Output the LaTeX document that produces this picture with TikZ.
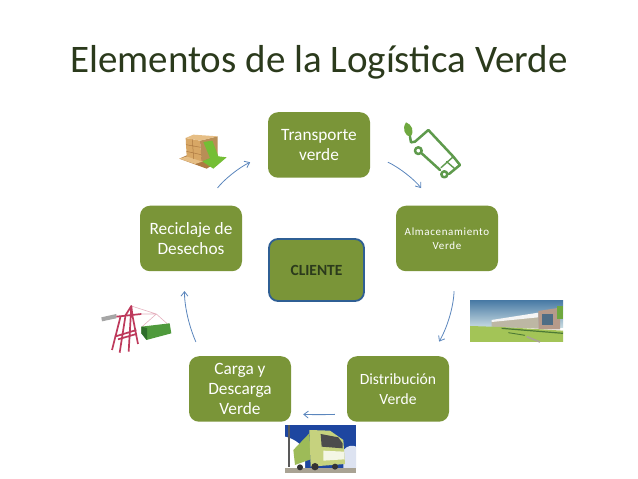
\documentclass[tikz,border=0pt]{standalone}
\usepackage{fontspec}
\setmainfont{Carlito}
\newfontfamily\trackedfont[LetterSpace=6]{Carlito}
\usetikzlibrary{arrows.meta,shadings}
\definecolor{boxgreen}{HTML}{7A9538}
\definecolor{titlecol}{HTML}{2B3A1C}
\definecolor{flowblue}{HTML}{5B86BD}
\definecolor{edgeblue}{HTML}{2F5F94}
\definecolor{cratecol}{HTML}{D8A765}
\definecolor{cratelight}{HTML}{E6BE85}
\definecolor{cratedark}{HTML}{AE7A42}
\definecolor{arrowgreen}{HTML}{74BE35}
\definecolor{truckline}{HTML}{5E9A4C}
\definecolor{leafgreen}{HTML}{6FA83F}
\definecolor{cranered}{HTML}{BE3A5C}
\definecolor{contgreen}{HTML}{4F9A3C}
\definecolor{contdark}{HTML}{2F6E2A}
\definecolor{skytop}{HTML}{4B7CA6}
\definecolor{skylow}{HTML}{C9DCE2}
\definecolor{grasscol}{HTML}{A3C457}
\definecolor{hedgecol}{HTML}{4C7A35}
\definecolor{wallcol}{HTML}{BDB7A4}
\definecolor{brickcol}{HTML}{B69A8A}
\definecolor{winblue}{HTML}{4F6D85}
\definecolor{deepsky}{HTML}{1E46A0}
\definecolor{cabgreen}{HTML}{C6D27E}
\definecolor{boxside}{HTML}{9DBB58}
\definecolor{roadcol}{HTML}{A9A394}
\tikzset{
  x=1pt,y=1pt,
  stepbox/.style={rectangle,rounded corners=10pt,fill=boxgreen,minimum width=102pt,minimum height=65.5pt,
    inner sep=0pt,align=center,text=white,font=\fontsize{17.3}{19.6}\selectfont},
  flow/.style={draw=flowblue,line width=0.8pt,-{Straight Barb[length=4.5pt,width=7pt]}},
  px/.style={yshift=479pt,yscale=-1},
  zoomed/.style={px,shift={(#1)},scale=1/3,line join=round},
  ropes/.style={draw=cranered!40,line width=0.6pt},
  girder/.style={draw=cranered,line width=1.7pt},
  cratelines/.style={draw=cratedark,line width=0.5pt},
  icon/.style={draw=truckline,line width=2.5pt,line cap=round}
}
\begin{document}
\begin{tikzpicture}
\useasboundingbox[fill=white] (0,0) rectangle (638,479);
\node[text=titlecol,font=\fontsize{39}{46}\selectfont,anchor=center] (title) at (319,417) {Elementos de la Logística Verde};

\node[stepbox] (trans) at (319,334) {Transporte\\verde};
\node[stepbox,font=\fontsize{11}{14.5}\trackedfont] (alma) at (447,240.5) {Almacenamiento\\Verde};
\node[stepbox,font=\fontsize{15.6}{19.6}\selectfont] (dist) at (398,90) {Distribución\\Verde};
\node[stepbox] (carga) at (240,90) {Carga y\\Descarga\\Verde};
\node[stepbox] (reci) at (191,240.5) {Reciclaje de\\Desechos};
\node[rectangle,rounded corners=9pt,fill=boxgreen,draw=edgeblue,line width=1.8pt,minimum width=95pt,minimum height=62pt,
  inner sep=0pt,text=titlecol,font=\fontsize{15.5}{18}\selectfont\bfseries] (cliente) at (316.5,209) {CLIENTE};

\draw[flow,shorten <=22pt,shorten >=19.5pt] (reci.68.2) to[bend left=14] (trans.190);
\draw[flow,shorten <=19.5pt,shorten >=22pt] (trans.-10) to[bend left=14] (alma.111.8);
\draw[flow,shorten <=19.7pt,shorten >=16.6pt] (alma.-77.8) to[bend left=14] (dist.45.4);
\draw[flow,shorten <=12pt,shorten >=12pt] (dist.206) to[bend left=2] (carga.-26);
\draw[flow,shorten <=15.5pt,shorten >=19.6pt] (carga.139) to[bend left=12] (reci.259.5);

% crate
\begin{scope}[zoomed={175,128}]
\fill[cratedark] (13,92) -- (40,80) -- (140,95) -- (95,122) -- cycle;
\fill[cratelight] (13,92) -- (40,84) -- (85,100) -- (60,108) -- cycle;
\fill[cratecol] (32,30) -- (75,38) -- (80,100) -- (35,85) -- cycle;
\fill[cratecol!85!black] (75,38) -- (128,25) -- (128,82) -- (80,100) -- cycle;
\fill[cratelight] (32,30) -- (55,20) -- (128,25) -- (75,38) -- cycle;
\draw[cratelines] (33,50) -- (77,58) (34,70) -- (78,80) (52,34) -- (56,93);
\fill[arrowgreen] (85,42) -- (112,38) -- (130,85) -- (155,88) -- (115,122) -- (82,100) -- (105,90) -- cycle;
\end{scope}

% green truck icon
\begin{scope}[zoomed={395,115}]
\fill[leafgreen] (33,22) .. controls (50,28) and (60,48) .. (46,66) .. controls (30,62) and (20,42) .. (33,22) -- cycle;
\draw[icon] (45,65) -- (48,82) -- (60,80) -- (100,45) -- (175,125) -- (195,150) -- (162,177);
\draw[icon] (80,115) -- (135,165);
\draw[icon,line width=1.4pt] (175,125) -- (138,158) (155,140) -- (178,160);
\draw[icon] (70,107) circle (10);
\draw[icon] (148,178) circle (9);
\end{scope}

% warehouse photo
\begin{scope}[zoomed={465,296}]
\shade[top color=skytop,bottom color=skylow] (15,15) rectangle (294,95);
\fill[wallcol] (80,75) -- (220,52) -- (220,98) -- (80,92) -- cycle;
\fill[white!92!gray] (80,72) -- (220,50) -- (220,64) -- (80,78) -- cycle;
\fill[brickcol] (220,45) -- (285,35) -- (285,100) -- (220,100) -- cycle;
\fill[winblue] (232,55) rectangle (265,88);
\fill[leafgreen] (275,30) rectangle (294,70);
\fill[grasscol] (15,90) -- (110,93) -- (294,104) -- (294,138) -- (15,138) -- cycle;
\draw[hedgecol,line width=1.2pt] (110,97) -- (294,112);
\draw[hedgecol,line width=0.9pt] (130,110) -- (180,118);
\draw[roadcol,line width=1.6pt] (185,122) -- (225,138);
\end{scope}

% crane
\begin{scope}[zoomed={98,300}]
\fill[gray!70] (10,52) -- (55,42) -- (55,55) -- (12,64) -- cycle;
\draw[ropes] (100,18) -- (175,42) (130,42) -- (175,42) (175,42) -- (130,82) (175,42) -- (212,75);
\draw[girder] (55,50) -- (130,42) (42,150) -- (68,48) (65,158) -- (82,50)
  (120,132) -- (103,45) -- (100,18) -- (80,50) (100,18) -- (92,155)
  (50,110) -- (115,90) (60,118) -- (115,102);
\fill[contgreen] (130,80) -- (215,70) -- (220,100) -- (145,120) -- (130,100) -- cycle;
\fill[contdark] (130,80) -- (147,84) -- (147,120) -- (130,100) -- cycle;
\end{scope}

% delivery truck photo
\begin{scope}[zoomed={280,420}]
\fill[deepsky] (15,15) rectangle (228,160);
\fill[white] (15,50) .. controls (40,55) and (60,70) .. (75,90) -- (75,145) -- (15,145) -- cycle;
\fill[white!85!deepsky] (190,90) .. controls (205,75) and (218,75) .. (228,80) -- (228,145) -- (190,145) -- cycle;
\fill[roadcol] (15,143) rectangle (228,160);
\fill[black!65] (24,15) rectangle (30,140);
\fill[boxside] (40,90) -- (88,40) -- (92,118) -- (45,135) -- cycle;
\fill[cabgreen] (88,30) -- (150,32) -- (190,60) -- (195,132) -- (92,140) -- cycle;
\fill[black!70] (122,42) -- (175,52) -- (188,70) -- (188,85) -- (125,80) -- cycle;
\fill[white!80!cabgreen] (130,92) -- (192,95) -- (193,118) -- (130,122) -- cycle;
\fill[black!80] (60,142) circle (9) (105,140) circle (11) (165,140) circle (9);
\end{scope}
\end{tikzpicture}
\end{document}
